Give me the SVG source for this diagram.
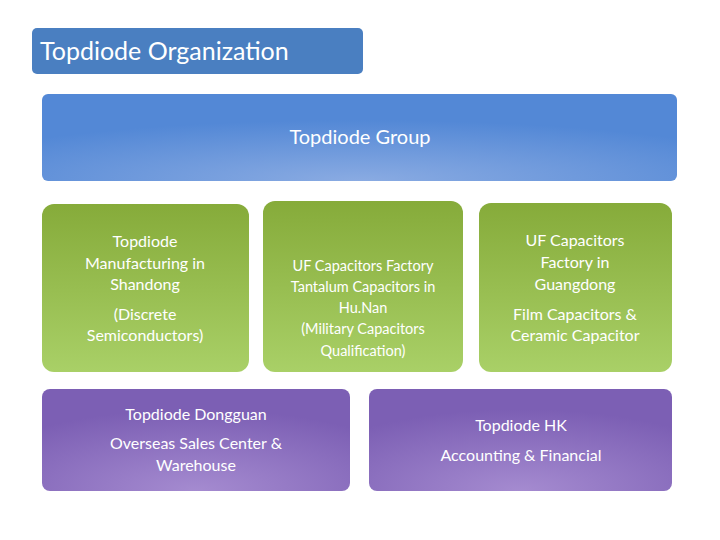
<svg xmlns="http://www.w3.org/2000/svg" width="720" height="540" viewBox="0 0 720 540">
<defs>
<radialGradient id="gb" cx="0.5" cy="1" r="0.7"><stop offset="0" stop-color="#8aabe2"/><stop offset="1" stop-color="#5388d6"/></radialGradient>
<linearGradient id="gg" x1="0" y1="0" x2="0" y2="1"><stop offset="0" stop-color="#86ab3a"/><stop offset="1" stop-color="#a9d067"/></linearGradient>
<radialGradient id="gp" cx="0.5" cy="1" r="0.8"><stop offset="0" stop-color="#a58bd0"/><stop offset="1" stop-color="#7c5fb4"/></radialGradient>
<style>
text{font-family:Lato,"Open Sans",sans-serif;fill:#fff;text-anchor:middle;font-size:16px}
.sm{font-size:14.5px}
</style>
</defs>
<rect width="720" height="540" fill="#fff"/>
<g id="title"><rect x="32" y="28" width="331" height="46" rx="5" fill="#4a7fc1"/><text x="40" y="60" style="text-anchor:start;font-size:25px">Topdiode Organization</text></g>
<g id="group"><rect x="42" y="94" width="635" height="87" rx="6" fill="url(#gb)"/><text x="360" y="144" style="font-size:20px">Topdiode Group</text></g>
<g id="shandong"><rect x="42" y="204" width="207" height="168" rx="12" fill="url(#gg)"/>
<text x="145"><tspan x="145" y="247">Topdiode</tspan><tspan x="145" y="269">Manufacturing in</tspan><tspan x="145" y="290">Shandong</tspan><tspan x="145" y="320">(Discrete</tspan><tspan x="145" y="341">Semiconductors)</tspan></text></g>
<g id="hunan"><rect x="263" y="201" width="200" height="171" rx="12" fill="url(#gg)"/>
<text x="363" class="sm"><tspan x="363" y="271">UF Capacitors Factory</tspan><tspan x="363" y="292">Tantalum Capacitors in</tspan><tspan x="363" y="313">Hu.Nan</tspan><tspan x="363" y="334">(Military  Capacitors</tspan><tspan x="363" y="356">Qualification)</tspan></text></g>
<g id="guangdong"><rect x="479" y="203" width="193" height="169" rx="12" fill="url(#gg)"/>
<text x="575"><tspan x="575" y="246">UF Capacitors</tspan><tspan x="575" y="268">Factory in</tspan><tspan x="575" y="290">Guangdong</tspan><tspan x="575" y="320">Film Capacitors &amp;</tspan><tspan x="575" y="341">Ceramic Capacitor</tspan></text></g>
<g id="dongguan"><rect x="42" y="389" width="308" height="102" rx="8" fill="url(#gp)"/>
<text x="196"><tspan x="196" y="420">Topdiode Dongguan</tspan><tspan x="196" y="449">Overseas Sales Center &amp;</tspan><tspan x="196" y="471">Warehouse</tspan></text></g>
<g id="hk"><rect x="369" y="389" width="303" height="102" rx="8" fill="url(#gp)"/>
<text x="521"><tspan x="521" y="431">Topdiode HK</tspan><tspan x="521" y="461">Accounting &amp; Financial</tspan></text></g>
<g id="connectors"/>
</svg>
